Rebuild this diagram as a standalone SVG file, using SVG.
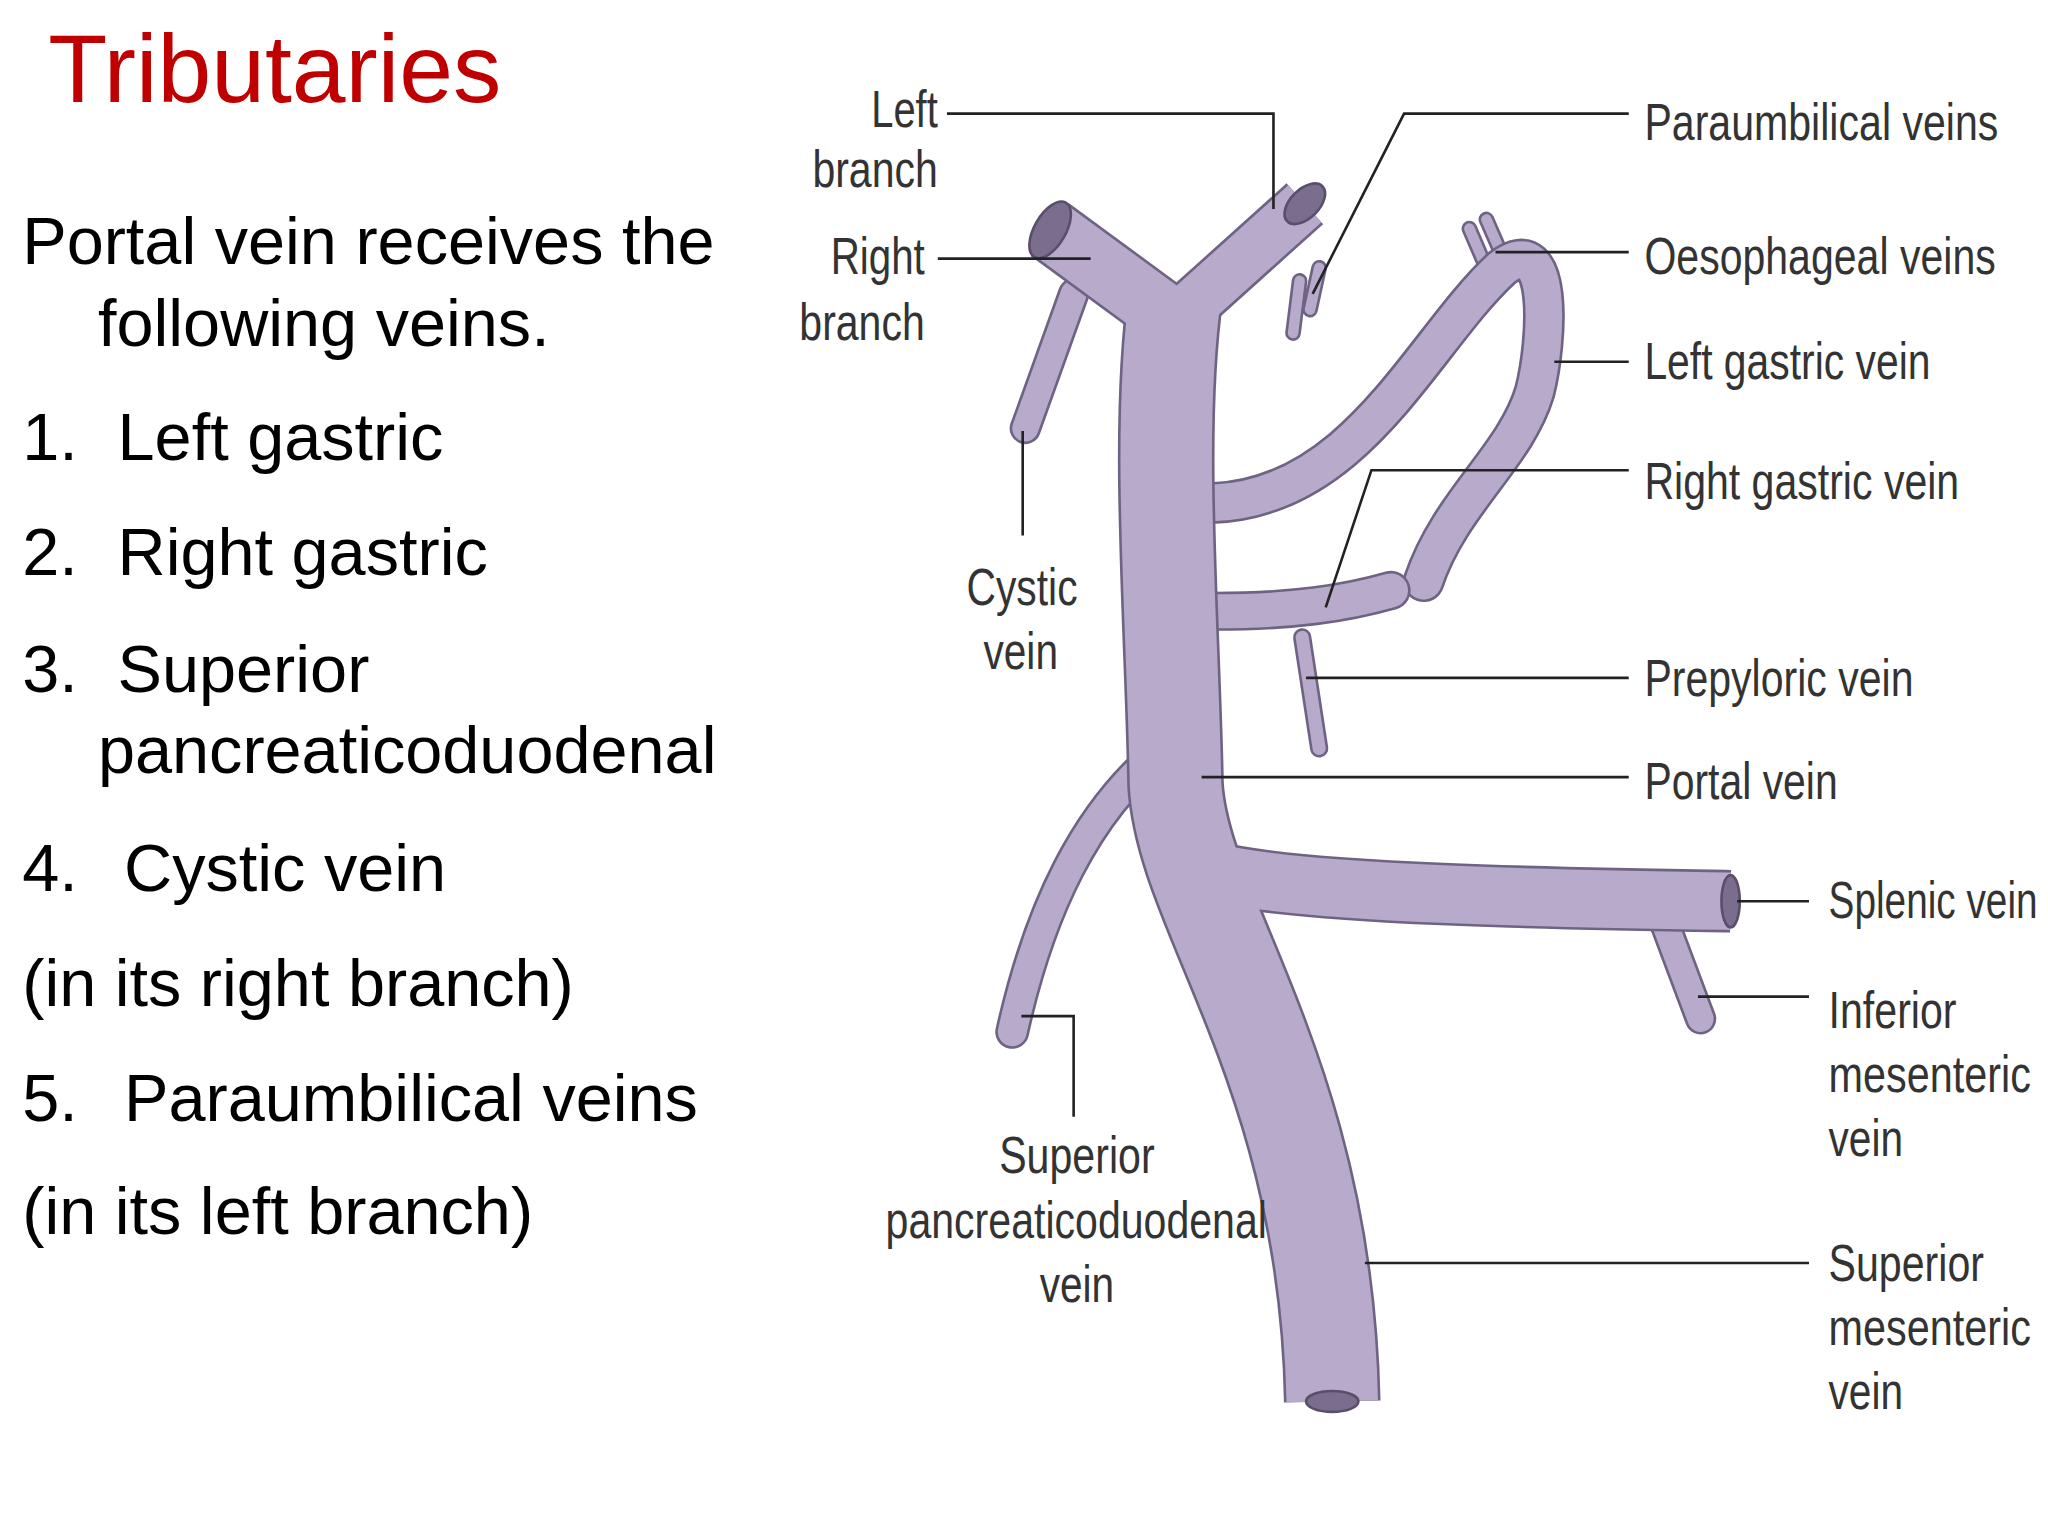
<svg xmlns="http://www.w3.org/2000/svg" width="2048" height="1536" viewBox="0 0 2048 1536">
<style>
.t{font-family:"Liberation Sans",Arial,sans-serif;fill:#000;font-size:51px}
.l{font-family:"Liberation Sans",Arial,sans-serif;fill:#333;font-size:40px}
.o{fill:none;stroke:#6f6383;stroke-linecap:round;stroke-linejoin:round}
.f{fill:none;stroke:#b7aacb;stroke-linecap:round;stroke-linejoin:round}
.b{stroke-linecap:butt}
.ld{fill:none;stroke:#222;stroke-width:2}
.e{fill:#7a6d8d;stroke:#5a4e6a;stroke-width:2}
</style>
<rect width="2048" height="1536" fill="#fff"/>
<g transform="scale(1.30612)">
<g id="text">
<text x="37" y="78" style="font-family:'Liberation Sans',Arial,sans-serif;font-size:74px;fill:#c00000">Tributaries</text>
<text class="t" x="17" y="202">Portal vein receives the</text>
<text class="t" x="75" y="265">following veins.</text>
<text class="t" x="17" y="352">1.</text><text class="t" x="90" y="352">Left gastric</text>
<text class="t" x="17" y="440">2.</text><text class="t" x="90" y="440">Right gastric</text>
<text class="t" x="17" y="530">3.</text><text class="t" x="90" y="530">Superior</text>
<text class="t" x="75" y="592">pancreaticoduodenal</text>
<text class="t" x="17" y="682">4.</text><text class="t" x="95" y="682">Cystic vein</text>
<text class="t" x="17" y="770">(in its right branch)</text>
<text class="t" x="17" y="858">5.</text><text class="t" x="95" y="858">Paraumbilical veins</text>
<text class="t" x="17" y="945">(in its left branch)</text>
</g>
<g id="veins">
<path class="o" stroke-width="26" d="M895,570 C830,620 795,700 775,790"/>
<path class="f" stroke-width="22" d="M895,570 C830,620 795,700 775,790"/>
<path class="o" stroke-width="24" d="M822,225 L785,328"/>
<path class="f" stroke-width="20" d="M822,225 L785,328"/>
<path class="o" stroke-width="14" d="M997,488 L1010,573"/>
<path class="f" stroke-width="10" d="M997,488 L1010,573"/>
<path class="o" stroke-width="24" d="M1272,700 L1302,780"/>
<path class="f" stroke-width="20" d="M1272,700 L1302,780"/>
<path class="o" stroke-width="12" d="M995,215 L990,255 M1010,205 L1003,237 M1125,175 L1140,210 M1138,168 L1152,200"/>
<path class="f" stroke-width="8" d="M995,215 L990,255 M1010,205 L1003,237 M1125,175 L1140,210 M1138,168 L1152,200"/>
<path class="o" stroke-width="32" d="M930,385 C1040,380 1090,260 1150,205 C1190,175 1185,260 1175,300 C1160,350 1110,385 1090,445"/>
<path class="f" stroke-width="28" d="M930,385 C1040,380 1090,260 1150,205 C1190,175 1185,260 1175,300 C1160,350 1110,385 1090,445"/>
<path class="o" stroke-width="30" d="M930,468 C990,468 1030,462 1065,452"/>
<path class="f" stroke-width="26" d="M930,468 C990,468 1030,462 1065,452"/>
<path class="o b" stroke-width="48" d="M930,668 C1000,685 1200,688 1325,690"/>
<path class="o b" stroke-width="50" d="M898,245 L804,176"/>
<path class="o b" stroke-width="42" d="M900,245 L999,156"/>
<path class="o b" stroke-width="74" d="M900,225 C885,330 898,480 900,600 C905,700 1015,820 1020,1073"/>
<path class="f b" stroke-width="44" d="M930,668 C1000,685 1200,688 1325,690"/>
<path class="f b" stroke-width="46" d="M898,245 L804,176"/>
<path class="f b" stroke-width="38" d="M900,245 L999,156"/>
<path class="f b" stroke-width="70" d="M900,225 C885,330 898,480 900,600 C905,700 1015,820 1020,1073"/>
<ellipse class="e" cx="1020" cy="1073" rx="20" ry="8"/>
<ellipse class="e" cx="1325" cy="690" rx="7" ry="20"/>
<ellipse class="e" cx="804" cy="176" rx="12" ry="24" transform="rotate(30 804 176)"/>
<ellipse class="e" cx="999" cy="156" rx="11" ry="19" transform="rotate(45 999 156)"/>
</g>
<g id="connectors">
<path class="ld" d="M725,87 H975 V160"/>
<path class="ld" d="M718,198 H835"/>
<path class="ld" d="M1247,87 H1075 L1005,225"/>
<path class="ld" d="M1247,193 H1145"/>
<path class="ld" d="M1247,277 H1190"/>
<path class="ld" d="M1247,360 H1050 L1015,465"/>
<path class="ld" d="M783,330 V410"/>
<path class="ld" d="M1247,519 H1000"/>
<path class="ld" d="M1247,595 H920"/>
<path class="ld" d="M1385,690 H1330"/>
<path class="ld" d="M1385,763 H1300"/>
<path class="ld" d="M782,778 H822 V855"/>
<path class="ld" d="M1385,967 H1045"/>
</g>
<g id="labels">
<text class="l" x="667" y="97" textLength="51" lengthAdjust="spacingAndGlyphs">Left</text>
<text class="l" x="622" y="143" textLength="96" lengthAdjust="spacingAndGlyphs">branch</text>
<text class="l" x="636" y="210" textLength="72" lengthAdjust="spacingAndGlyphs">Right</text>
<text class="l" x="612" y="260" textLength="96" lengthAdjust="spacingAndGlyphs">branch</text>
<text class="l" x="1259" y="107" textLength="271" lengthAdjust="spacingAndGlyphs">Paraumbilical veins</text>
<text class="l" x="1259" y="210" textLength="269" lengthAdjust="spacingAndGlyphs">Oesophageal veins</text>
<text class="l" x="1259" y="290" textLength="219" lengthAdjust="spacingAndGlyphs">Left gastric vein</text>
<text class="l" x="1259" y="382" textLength="241" lengthAdjust="spacingAndGlyphs">Right gastric vein</text>
<text class="l" x="740" y="463" textLength="85" lengthAdjust="spacingAndGlyphs">Cystic</text>
<text class="l" x="753" y="512" textLength="57" lengthAdjust="spacingAndGlyphs">vein</text>
<text class="l" x="1259" y="533" textLength="206" lengthAdjust="spacingAndGlyphs">Prepyloric vein</text>
<text class="l" x="1259" y="612" textLength="148" lengthAdjust="spacingAndGlyphs">Portal vein</text>
<text class="l" x="1400" y="703" textLength="160" lengthAdjust="spacingAndGlyphs">Splenic vein</text>
<text class="l" x="1400" y="787" textLength="98" lengthAdjust="spacingAndGlyphs">Inferior</text>
<text class="l" x="1400" y="836" textLength="155" lengthAdjust="spacingAndGlyphs">mesenteric</text>
<text class="l" x="1400" y="885" textLength="57" lengthAdjust="spacingAndGlyphs">vein</text>
<text class="l" x="765" y="898" textLength="119" lengthAdjust="spacingAndGlyphs">Superior</text>
<text class="l" x="678" y="948" textLength="292" lengthAdjust="spacingAndGlyphs">pancreaticoduodenal</text>
<text class="l" x="796" y="997" textLength="57" lengthAdjust="spacingAndGlyphs">vein</text>
<text class="l" x="1400" y="981" textLength="119" lengthAdjust="spacingAndGlyphs">Superior</text>
<text class="l" x="1400" y="1030" textLength="155" lengthAdjust="spacingAndGlyphs">mesenteric</text>
<text class="l" x="1400" y="1079" textLength="57" lengthAdjust="spacingAndGlyphs">vein</text>
</g>
</g>
</svg>
